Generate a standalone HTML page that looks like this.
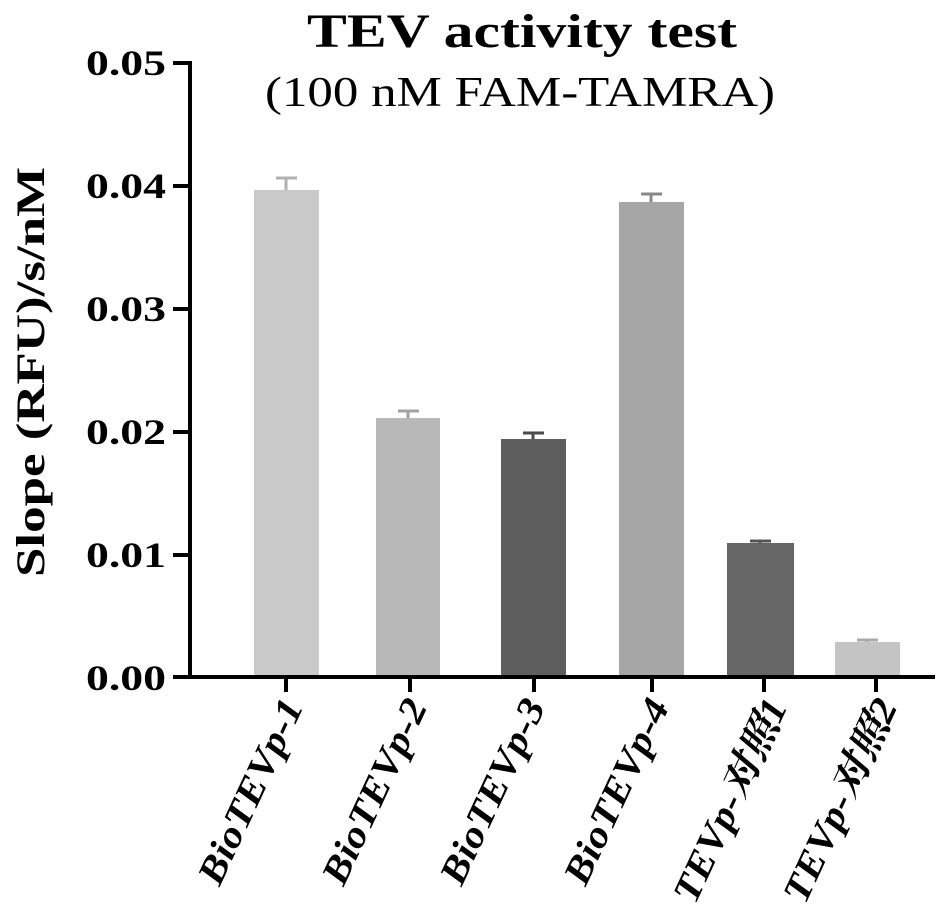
<!DOCTYPE html>
<html><head><meta charset="utf-8"><style>
html,body{margin:0;padding:0;background:#fff;}
svg{display:block;}
text{font-family:"Liberation Serif","Noto Serif CJK SC",serif;}
</style></head><body>
<svg width="952" height="922" viewBox="0 0 952 922" xmlns="http://www.w3.org/2000/svg">
<g>
<text x="522" y="47" font-size="48" font-weight="bold" text-anchor="middle" textLength="430" lengthAdjust="spacingAndGlyphs">TEV activity  test</text>
<text x="520" y="106" font-size="42" text-anchor="middle" textLength="510" lengthAdjust="spacingAndGlyphs">(100 nM FAM-TAMRA)</text>
<text transform="translate(44,372) rotate(-90)" font-size="40" font-weight="bold" text-anchor="middle" textLength="410" lengthAdjust="spacingAndGlyphs">Slope (RFU)/s/nM</text>
<g font-size="36" font-weight="bold" text-anchor="end">
<text x="166" y="75" textLength="80" lengthAdjust="spacingAndGlyphs">0.05</text>
<text x="166" y="198" textLength="80" lengthAdjust="spacingAndGlyphs">0.04</text>
<text x="166" y="321" textLength="80" lengthAdjust="spacingAndGlyphs">0.03</text>
<text x="166" y="444" textLength="80" lengthAdjust="spacingAndGlyphs">0.02</text>
<text x="166" y="567" textLength="80" lengthAdjust="spacingAndGlyphs">0.01</text>
<text x="166" y="690" textLength="80" lengthAdjust="spacingAndGlyphs">0.00</text>
</g>
</g>
<rect x="254" y="190" width="65" height="487" fill="#c9c9c9"/>
<rect x="376" y="418" width="64" height="259" fill="#b8b8b8"/>
<rect x="501" y="439" width="65" height="238" fill="#5e5e5e"/>
<rect x="619" y="202" width="65" height="475" fill="#a6a6a6"/>
<rect x="727" y="543" width="67" height="134" fill="#666666"/>
<rect x="835" y="642" width="65" height="35" fill="#c4c4c4"/>
<g stroke-width="3">
<path d="M286 190V178M276 178H297" stroke="#b0b0b0"/>
<path d="M408 418V411M398 411H419" stroke="#a0a0a0"/>
<path d="M533 439V433M523 433H544" stroke="#4a4a4a"/>
<path d="M651 202V194M641 194H662" stroke="#888"/>
<path d="M760 543V541M750 541H771" stroke="#555"/>
<path d="M867 642V640M857 640H878" stroke="#aaa"/>
</g>
<g stroke="#000" stroke-width="4" fill="none">
<path d="M190 61V679"/>
<path d="M188 677H935"/>
<path d="M173 63H190M173 186H190M173 309H190M173 432H190M173 555H190M173 677H190"/>
<path d="M286 677V692M410 677V692M534 677V692M652 677V692M764 677V692M876 677V692"/>
</g>
<g font-size="38" font-weight="bold" font-style="italic" text-anchor="end">
<text transform="translate(304,706) rotate(-65)" textLength="200" lengthAdjust="spacingAndGlyphs">BioTEVp-1</text>
<text transform="translate(428,706) rotate(-65)" textLength="200" lengthAdjust="spacingAndGlyphs">BioTEVp-2</text>
<text transform="translate(546,706) rotate(-65)" textLength="200" lengthAdjust="spacingAndGlyphs">BioTEVp-3</text>
<text transform="translate(670,706) rotate(-65)" textLength="200" lengthAdjust="spacingAndGlyphs">BioTEVp-4</text>
<text transform="translate(788,706) rotate(-65)" textLength="220" lengthAdjust="spacingAndGlyphs">TEVp-对照1</text>
<text transform="translate(898,706) rotate(-65)" textLength="220" lengthAdjust="spacingAndGlyphs">TEVp-对照2</text>
</g>
</svg>
</body></html>
